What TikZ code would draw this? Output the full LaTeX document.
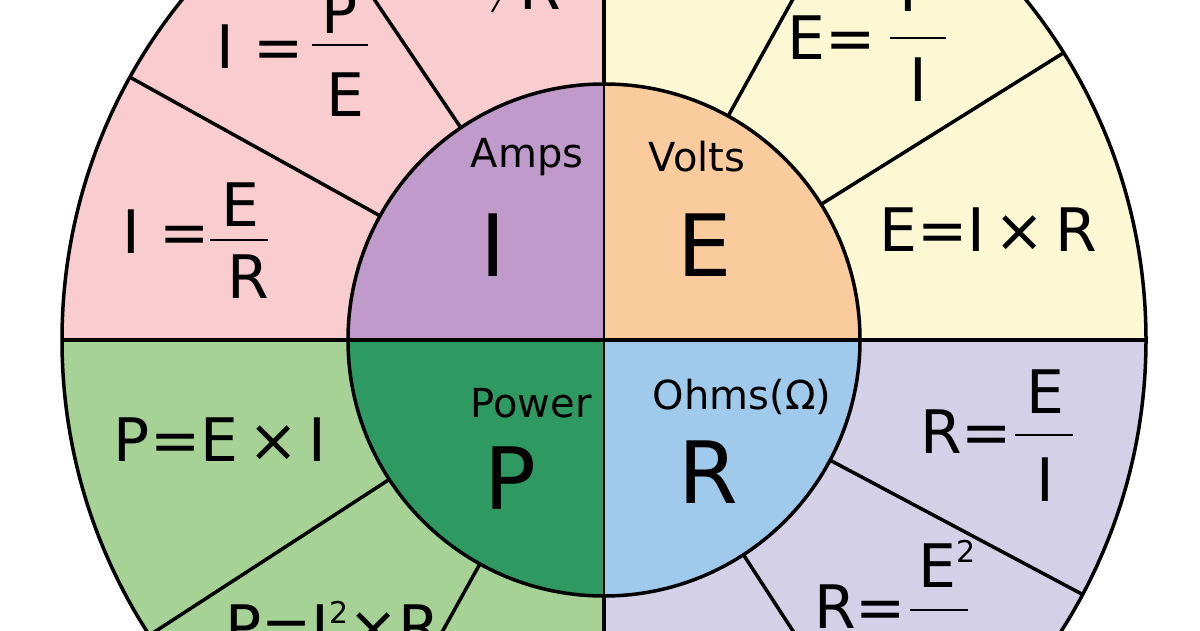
\documentclass[tikz,border=0pt]{standalone}
\usepackage{fontspec}
\setmainfont{DejaVu Sans}
\newcommand{\sq}[1]{\raisebox{0.75ex}{\fontsize{30}{30}\selectfont #1}}
\begin{document}
\begin{tikzpicture}[x=1pt,y=1pt,line width=3.5pt,
  big/.style={font=\fontsize{60}{66}\selectfont,inner sep=0pt},
  lab/.style={font=\fontsize{40}{44}\selectfont,inner sep=0pt},
  huge/.style={font=\fontsize{86}{90}\selectfont,inner sep=0pt}]
\useasboundingbox (0,0) rectangle (1200,630);
\coordinate (c) at (604,290);
\def\R{542}\def\r{256}
\clip (0,0) rectangle (1200,630);
% outer quadrants
\fill[fill={rgb,255:red,249;green,204;blue,208}] (c) -- ++(180:\R) arc[start angle=180,end angle=90,radius=\R] -- cycle;
\fill[fill={rgb,255:red,251;green,248;blue,211}] (c) -- ++(90:\R) arc[start angle=90,end angle=0,radius=\R] -- cycle;
\fill[fill={rgb,255:red,211;green,208;blue,231}] (c) -- ++(0:\R) arc[start angle=0,end angle=-90,radius=\R] -- cycle;
\fill[fill={rgb,255:red,166;green,210;blue,149}] (c) -- ++(-90:\R) arc[start angle=-90,end angle=-180,radius=\R] -- cycle;
% radial lines
\foreach \a in {151,124,61,32,-28,-57,-119,-147}
  \draw (c) ++(\a:\r) -- ++(\a:\R-\r);
\draw (c) ++(180:\R) -- ++(0:2*\R);
\draw (c) ++(90:\R) -- ++(-90:2*\R);
% inner quadrants
\fill[fill={rgb,255:red,191;green,154;blue,202}] (c) -- ++(180:\r) arc[start angle=180,end angle=90,radius=\r] -- cycle;
\fill[fill={rgb,255:red,250;green,203;blue,157}] (c) -- ++(90:\r) arc[start angle=90,end angle=0,radius=\r] -- cycle;
\fill[fill={rgb,255:red,159;green,202;blue,236}] (c) -- ++(0:\r) arc[start angle=0,end angle=-90,radius=\r] -- cycle;
\fill[fill={rgb,255:red,46;green,154;blue,98}] (c) -- ++(-90:\r) arc[start angle=-90,end angle=-180,radius=\r] -- cycle;
\draw (c) ++(180:\r) -- ++(0:2*\r);
\draw[line width=2.5pt] (c) ++(90:\r) -- ++(-90:2*\r);
\draw (c) circle[radius=\r];
\draw (c) circle[radius=\R];
% inner labels
\node[lab] (amps) at (527,473) {Amps};
\node[huge] (bi) at (493,385) {I};
\node[lab] (volts) at (697,473) {Volts};
\node[huge] (be) at (705,385) {E};
\node[lab] (pow) at (531,227) {Power};
\node[huge] (bp) at (510,152) {P};
\node[lab] (ohm) at (742,233) {Ohms(Ω)};
\node[huge] (br) at (708,158) {R};
% I = E/R
\node[big] (f1) at (166,398) {I =};
\node[big] (f1n) at (240,425) {E};
\node[big] (f1d) at (248,353) {R};
\draw[line width=2pt] (210,390) -- (268,390);
% I = P/E
\node[big] (f2) at (260,583) {I =};
\node[big] (f2n) at (340,618) {P};
\node[big] (f2d) at (345,535) {E};
\draw[line width=2pt] (312,585) -- (368,585);
% I = sqrt(P/R) (cropped)
\draw[line width=2pt] (492,618) -- (500,632);
\node[big] (f3) at (540,642) {R};
% E = P/I
\node[big] (f4) at (832,592) {E=};
\node[big] (f4n) at (918,640) {P};
\node[big] (f4d) at (918,550) {I};
\draw[line width=2pt] (890,592) -- (946,592);
% E = I x R
\node[big] (f5) at (988,400) {E=I\,×\,R};
% P = E x I
\node[big] (f6) at (220,190) {P=E\,×\,I};
% P = I^2 x R
\node[big] (f7) at (333,5) {P=I\sq{2}×R};
% R = E/I
\node[big] (f8) at (966,198) {R=};
\node[big] (f8n) at (1045,238) {E};
\node[big] (f8d) at (1045,150) {I};
\draw[line width=2pt] (1015,195) -- (1073,195);
% R = E^2/P
\node[big] (f9) at (860,23) {R=};
\node[big] (f9n) at (947,66) {E\sq{2}};
\draw[line width=2pt] (910,20) -- (968,20);
\end{tikzpicture}
\end{document}
